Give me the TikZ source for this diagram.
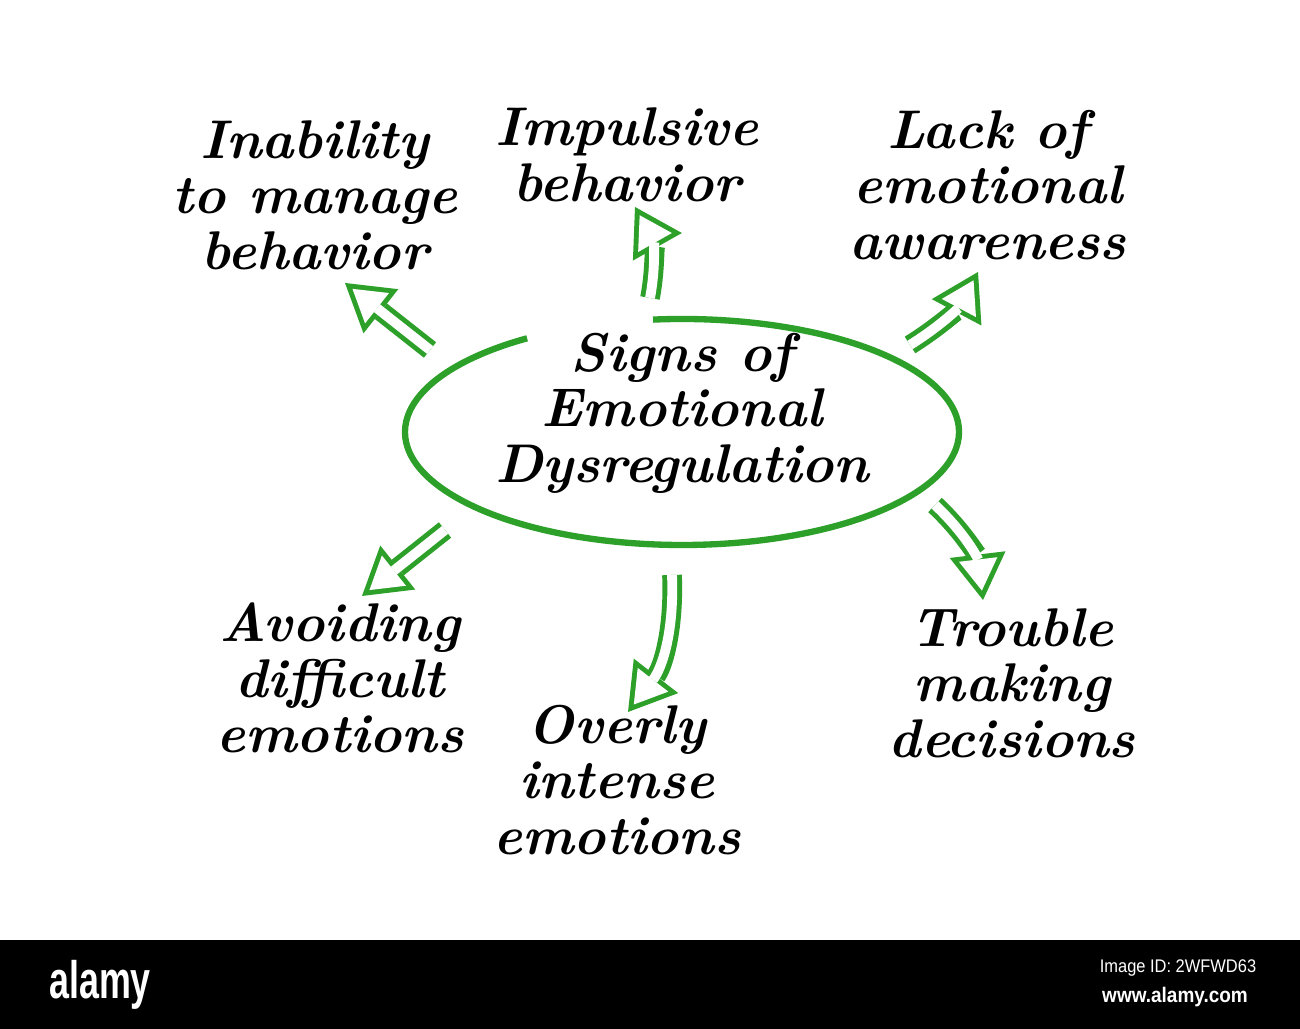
\documentclass[tikz,border=0pt]{standalone}
\usepackage{fontspec}
\usepackage{tikz}
\usetikzlibrary{arrows.meta}
\newfontfamily\logofont{Liberation Sans}
\definecolor{signgreen}{HTML}{2DA02A}

\begin{document}
\begin{tikzpicture}[
  lbl/.style={align=center, inner sep=0pt, font=\fontsize{15.5}{15.8}\selectfont\bfseries\itshape},
  hollow/.style={draw=signgreen, line width=5.6pt, -{Triangle[length=13pt, width=16pt, line width=0pt]},
    postaction={draw=white, line width=2.8pt, shorten >=2.7pt, -{Triangle[length=8.9pt, width=11pt, line width=0pt]}}},
  ring/.style={draw=signgreen, line width=1.8pt},
  barlbl/.style={text=white, inner sep=0pt, font=\logofont}
]
  \useasboundingbox (0,0) rectangle (13,10.29);

  \node[lbl] (sign) at (6.82,6.16) {Signs of\\Emotional\\Dysregulation};
  \coordinate (ringc) at ([yshift=-1.9mm]sign.center);
  \draw[ring] (ringc) ++(124:2.77 and 1.13) arc[start angle=124, end angle=456, x radius=2.77, y radius=1.13];

  \node[lbl] (inab) at (3.15,8.34) {Inability\\to manage\\behavior};
  \node[lbl] (impul) at (6.27,8.74) {Impulsive\\behavior};
  \node[lbl] (lack) at (9.88,8.44) {Lack of\\emotional\\awareness};
  \node[lbl] (avoid) at (3.40,3.51) {Avoiding\\difficult\\emotions};
  \node[lbl] (overly) at (6.17,2.49) {Overly\\intense\\emotions};
  \node[lbl] (trouble) at (10.12,3.46) {Trouble\\making\\decisions};

  \coordinate (a1) at (4.30,6.79); \coordinate (b1) at (3.45,7.46);
  \coordinate (a2) at (6.50,7.31); \coordinate (b2) at (6.35,8.22);
  \coordinate (a3) at (9.10,6.84); \coordinate (b3) at (9.78,7.57);
  \coordinate (a4) at (4.45,4.99); \coordinate (b4) at (3.62,4.33);
  \coordinate (a5) at (6.72,4.54); \coordinate (b5) at (6.28,3.17);
  \coordinate (a6) at (9.35,5.24); \coordinate (b6) at (9.83,4.29);

  \draw[hollow] (a1) -- (b1);
  \draw[hollow] (a2) to[bend right=20] (b2);
  \draw[hollow] (a3) to[bend right=15] (b3);
  \draw[hollow] (a4) -- (b4);
  \draw[hollow] (a5) to[bend left=20] (b5);
  \draw[hollow] (a6) to[bend left=20] (b6);

  \fill[black] (0,0) rectangle (13,0.89);
  \node[barlbl, font=\logofont\bfseries\fontsize{15}{15}\selectfont] (logo) at (1.00,0.44) {\scalebox{0.68}[1]{alamy}};
  \node[barlbl, font=\logofont\fontsize{5.2}{6}\selectfont] (imgid) at (11.78,0.61) {\scalebox{0.9}[1]{Image ID: 2WFWD63}};
  \node[barlbl, font=\logofont\bfseries\fontsize{6}{7}\selectfont] (site) at (11.75,0.32) {\scalebox{0.9}[1]{www.alamy.com}};
\end{tikzpicture}
\end{document}
